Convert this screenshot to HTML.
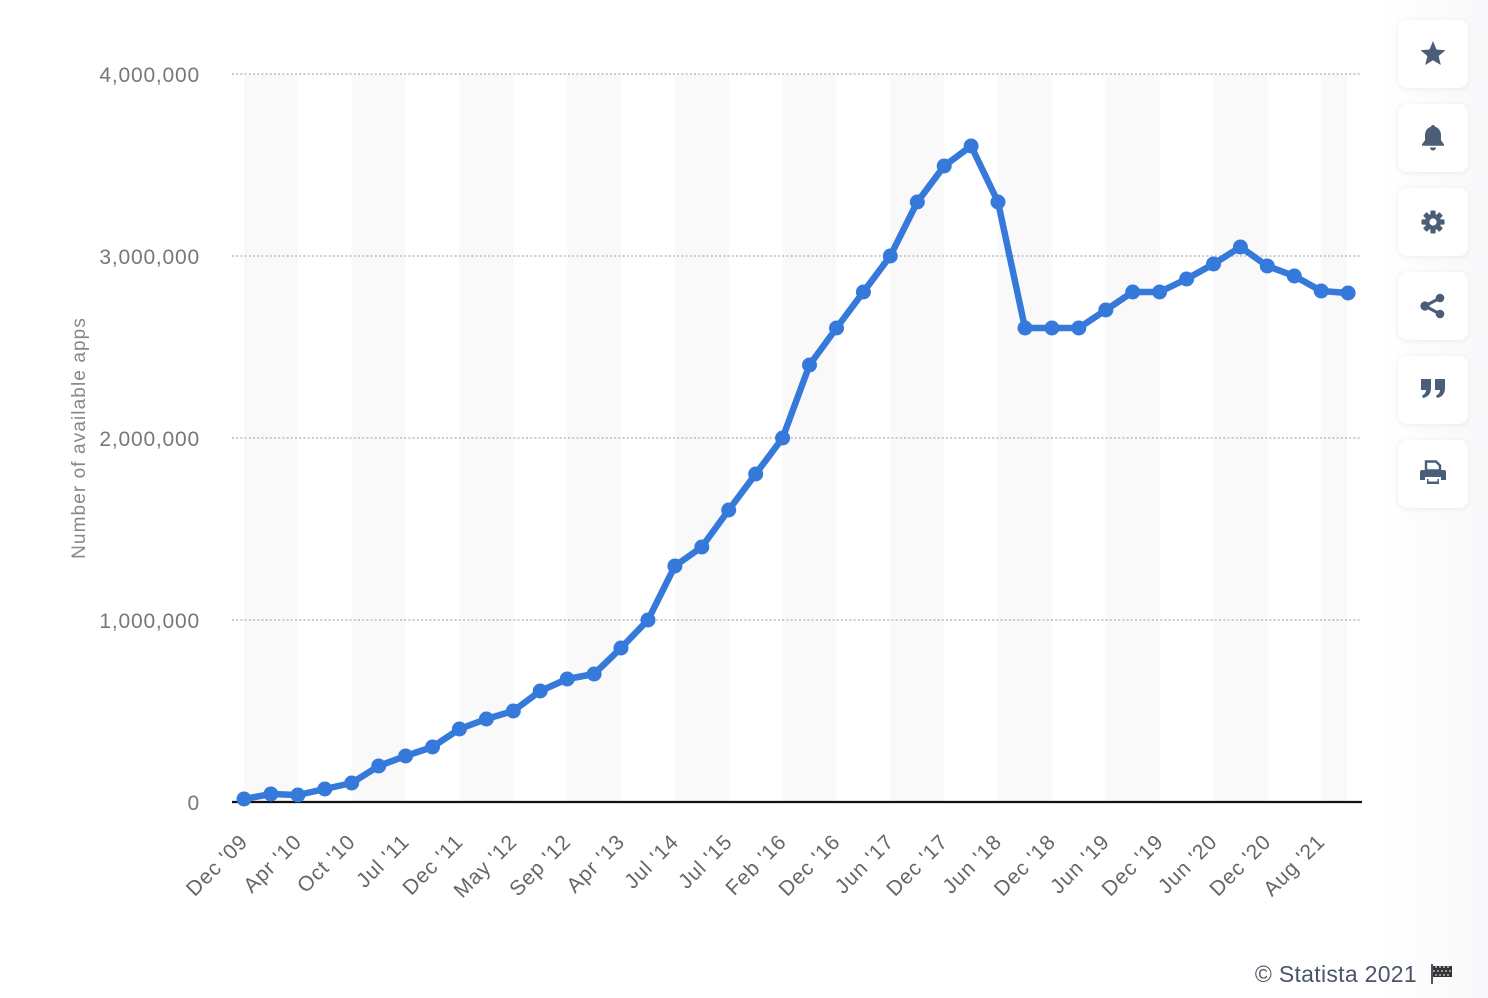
<!DOCTYPE html>
<html>
<head>
<meta charset="utf-8">
<style>
  html,body{margin:0;padding:0;background:#fff;}
  body{width:1488px;height:998px;overflow:hidden;position:relative;font-family:"Liberation Sans",sans-serif;}
  svg{position:absolute;left:0;top:0;}
  .btn{position:absolute;left:1398px;width:70px;height:68px;background:#fff;border-radius:9px;box-shadow:0 1px 6px rgba(40,50,80,0.09);}
</style>
</head>
<body>
<div style="position:absolute;left:1380px;top:0;width:108px;height:998px;background:linear-gradient(to right,#ffffff,#fbfbfc 60%,#f7f8f9);"></div>
<div class="btn" style="top:20px"></div>
<div class="btn" style="top:104px"></div>
<div class="btn" style="top:188px"></div>
<div class="btn" style="top:272px"></div>
<div class="btn" style="top:356px"></div>
<div class="btn" style="top:440px"></div>

<svg width="1488" height="998" viewBox="0 0 1488 998" xmlns="http://www.w3.org/2000/svg">
  <!-- alternate bands -->
  <g fill="#f9f9f9">
    <rect x="244" y="75" width="53.9" height="727"/>
    <rect x="351.7" y="75" width="53.9" height="727"/>
    <rect x="459.4" y="75" width="53.9" height="727"/>
    <rect x="567.2" y="75" width="53.9" height="727"/>
    <rect x="674.9" y="75" width="53.9" height="727"/>
    <rect x="782.6" y="75" width="53.9" height="727"/>
    <rect x="890.3" y="75" width="53.9" height="727"/>
    <rect x="998" y="75" width="53.9" height="727"/>
    <rect x="1105.8" y="75" width="53.9" height="727"/>
    <rect x="1213.5" y="75" width="53.9" height="727"/>
    <rect x="1321.2" y="75" width="26" height="727"/>
  </g>
  <!-- gridlines -->
  <g stroke="#c4c4c4" stroke-width="1.7" stroke-dasharray="2,2.2">
    <line x1="232" y1="74" x2="1362" y2="74"/>
    <line x1="232" y1="256" x2="1362" y2="256"/>
    <line x1="232" y1="438" x2="1362" y2="438"/>
    <line x1="232" y1="620" x2="1362" y2="620"/>
  </g>
  <line x1="232" y1="802" x2="1362" y2="802" stroke="#111" stroke-width="2.2"/>

  <!-- y labels -->
  <g font-family="Liberation Sans, sans-serif" font-size="21" fill="#777" text-anchor="end" letter-spacing="0.8">
    <text x="200" y="82">4,000,000</text>
    <text x="200" y="264">3,000,000</text>
    <text x="200" y="446">2,000,000</text>
    <text x="200" y="628">1,000,000</text>
    <text x="200" y="810">0</text>
  </g>
  <text x="85" y="438" transform="rotate(-90 85 438)" text-anchor="middle" font-family="Liberation Sans, sans-serif" font-size="19" letter-spacing="1.1" fill="#888">Number of available apps</text>

  <!-- x labels -->
  <g font-family="Liberation Sans, sans-serif" font-size="21" fill="#666" text-anchor="end" letter-spacing="0.9">
    <text x="249" y="843" transform="rotate(-45 249 843)">Dec '09</text>
    <text x="302.9" y="843" transform="rotate(-45 302.9 843)">Apr '10</text>
    <text x="356.7" y="843" transform="rotate(-45 356.7 843)">Oct '10</text>
    <text x="410.6" y="843" transform="rotate(-45 410.6 843)">Jul '11</text>
    <text x="464.4" y="843" transform="rotate(-45 464.4 843)">Dec '11</text>
    <text x="518.3" y="843" transform="rotate(-45 518.3 843)">May '12</text>
    <text x="572.2" y="843" transform="rotate(-45 572.2 843)">Sep '12</text>
    <text x="626" y="843" transform="rotate(-45 626 843)">Apr '13</text>
    <text x="679.9" y="843" transform="rotate(-45 679.9 843)">Jul '14</text>
    <text x="733.7" y="843" transform="rotate(-45 733.7 843)">Jul '15</text>
    <text x="787.6" y="843" transform="rotate(-45 787.6 843)">Feb '16</text>
    <text x="841.5" y="843" transform="rotate(-45 841.5 843)">Dec '16</text>
    <text x="895.3" y="843" transform="rotate(-45 895.3 843)">Jun '17</text>
    <text x="949.2" y="843" transform="rotate(-45 949.2 843)">Dec '17</text>
    <text x="1003" y="843" transform="rotate(-45 1003 843)">Jun '18</text>
    <text x="1056.9" y="843" transform="rotate(-45 1056.9 843)">Dec '18</text>
    <text x="1110.8" y="843" transform="rotate(-45 1110.8 843)">Jun '19</text>
    <text x="1164.6" y="843" transform="rotate(-45 1164.6 843)">Dec '19</text>
    <text x="1218.5" y="843" transform="rotate(-45 1218.5 843)">Jun '20</text>
    <text x="1272.3" y="843" transform="rotate(-45 1272.3 843)">Dec '20</text>
    <text x="1326.2" y="843" transform="rotate(-45 1326.2 843)">Aug '21</text>
  </g>

  <!-- series -->
  <polyline fill="none" stroke="#3579da" stroke-width="6.5" stroke-linejoin="round" stroke-linecap="round"
    points="244,799 270.9,794 297.9,795 324.8,789 351.7,783 378.7,766 405.6,756 432.5,747 459.4,729 486.4,719 513.3,711 540.2,691 567.2,679 594.1,674 621,648 648,620 674.9,566 701.8,547 728.7,510 755.7,474 782.6,438 809.5,365 836.5,328 863.4,292 890.3,256 917.3,202 944.2,166 971.1,146 998,202 1025,328 1051.9,328 1078.8,328 1105.8,310 1132.7,292 1159.6,292 1186.6,279 1213.5,264 1240.4,247 1267.3,266 1294.3,276 1321.2,291 1348.1,293"/>
  <g fill="#3579da">
    <circle cx="244" cy="799" r="7.5"/><circle cx="270.9" cy="794" r="7.5"/><circle cx="297.9" cy="795" r="7.5"/>
    <circle cx="324.8" cy="789" r="7.5"/><circle cx="351.7" cy="783" r="7.5"/><circle cx="378.7" cy="766" r="7.5"/>
    <circle cx="405.6" cy="756" r="7.5"/><circle cx="432.5" cy="747" r="7.5"/><circle cx="459.4" cy="729" r="7.5"/>
    <circle cx="486.4" cy="719" r="7.5"/><circle cx="513.3" cy="711" r="7.5"/><circle cx="540.2" cy="691" r="7.5"/>
    <circle cx="567.2" cy="679" r="7.5"/><circle cx="594.1" cy="674" r="7.5"/><circle cx="621" cy="648" r="7.5"/>
    <circle cx="648" cy="620" r="7.5"/><circle cx="674.9" cy="566" r="7.5"/><circle cx="701.8" cy="547" r="7.5"/>
    <circle cx="728.7" cy="510" r="7.5"/><circle cx="755.7" cy="474" r="7.5"/><circle cx="782.6" cy="438" r="7.5"/>
    <circle cx="809.5" cy="365" r="7.5"/><circle cx="836.5" cy="328" r="7.5"/><circle cx="863.4" cy="292" r="7.5"/>
    <circle cx="890.3" cy="256" r="7.5"/><circle cx="917.3" cy="202" r="7.5"/><circle cx="944.2" cy="166" r="7.5"/>
    <circle cx="971.1" cy="146" r="7.5"/><circle cx="998" cy="202" r="7.5"/><circle cx="1025" cy="328" r="7.5"/>
    <circle cx="1051.9" cy="328" r="7.5"/><circle cx="1078.8" cy="328" r="7.5"/><circle cx="1105.8" cy="310" r="7.5"/>
    <circle cx="1132.7" cy="292" r="7.5"/><circle cx="1159.6" cy="292" r="7.5"/><circle cx="1186.6" cy="279" r="7.5"/>
    <circle cx="1213.5" cy="264" r="7.5"/><circle cx="1240.4" cy="247" r="7.5"/><circle cx="1267.3" cy="266" r="7.5"/>
    <circle cx="1294.3" cy="276" r="7.5"/><circle cx="1321.2" cy="291" r="7.5"/><circle cx="1348.1" cy="293" r="7.5"/>
  </g>

  <!-- icons -->
  <g fill="#4a5e78" stroke="none">
    <polygon points="1433,41 1436.5,49.5 1445.5,50.2 1438.6,56 1440.8,65 1433,60.2 1425.2,65 1427.4,56 1420.5,50.2 1429.5,49.5"/>
    <path d="M1433,125 c1.2,0 2,0.8 2,1.8 c4,1 6,4.5 6,8.5 v5 l3,4 v1.5 h-22 v-1.5 l3,-4 v-5 c0,-4 2,-7.5 6,-8.5 c0,-1 0.8,-1.8 2,-1.8 z"/>
    <path d="M1430,147.5 a3,3 0 0 0 6,0 z"/>
    <g transform="translate(1433 222)">
      <circle r="8"/>
      <rect x="-2.6" y="-11.5" width="5.2" height="23" rx="1"/>
      <rect x="-2.6" y="-11.5" width="5.2" height="23" rx="1" transform="rotate(45)"/>
      <rect x="-2.6" y="-11.5" width="5.2" height="23" rx="1" transform="rotate(90)"/>
      <rect x="-2.6" y="-11.5" width="5.2" height="23" rx="1" transform="rotate(135)"/>
      <circle r="3.6" fill="#fff"/>
    </g>
    <g>
      <line x1="1425" y1="306" x2="1440" y2="298" stroke="#4a5e78" stroke-width="3"/>
      <line x1="1425" y1="306" x2="1440" y2="314" stroke="#4a5e78" stroke-width="3"/>
      <circle cx="1440" cy="298" r="4.3"/>
      <circle cx="1425" cy="306" r="4.6"/>
      <circle cx="1440" cy="314" r="4.3"/>
    </g>
    <path d="M1421,379 h10 v9 c0,5 -2.5,9 -8,10 l-1,-2.5 c2.5,-1 4,-3 4,-5.5 h-5 z"/>
    <path d="M1435,379 h10 v9 c0,5 -2.5,9 -8,10 l-1,-2.5 c2.5,-1 4,-3 4,-5.5 h-5 z"/>
    <path d="M1426,461.5 h10 l4,4 v5 h-14 z" fill="none" stroke="#4a5e78" stroke-width="2.4"/>
    <path d="M1420,472 a2,2 0 0 1 2,-2 h22 a2,2 0 0 1 2,2 v8 h-5 v-3 h-16 v3 h-5 z"/>
    <rect x="1427" y="479" width="12" height="5" fill="#4a5e78"/>
    <rect x="1428.5" y="479" width="9" height="2.5" fill="#fff"/>
  </g>

  <!-- credit -->
  <text x="1417" y="982" text-anchor="end" font-family="Liberation Sans, sans-serif" font-size="23" fill="#4b5568" letter-spacing="0.3">© Statista 2021</text>
  <g>
    <rect x="1431" y="964" width="2" height="20" fill="#4b5568"/>
    <rect x="1433" y="966" width="19" height="11" fill="#333"/>
    <g fill="#999">
      <rect x="1435" y="966" width="2" height="2"/><rect x="1439" y="966" width="2" height="2"/><rect x="1443" y="966" width="2" height="2"/><rect x="1447" y="966" width="2" height="2"/>
      <rect x="1433" y="970" width="2" height="2"/><rect x="1437" y="970" width="2" height="2"/><rect x="1441" y="970" width="2" height="2"/><rect x="1445" y="970" width="2" height="2"/><rect x="1449" y="970" width="2" height="2"/>
      <rect x="1435" y="974" width="2" height="2"/><rect x="1439" y="974" width="2" height="2"/><rect x="1443" y="974" width="2" height="2"/><rect x="1447" y="974" width="2" height="2"/>
    </g>
  </g>
</svg>
</body>
</html>
